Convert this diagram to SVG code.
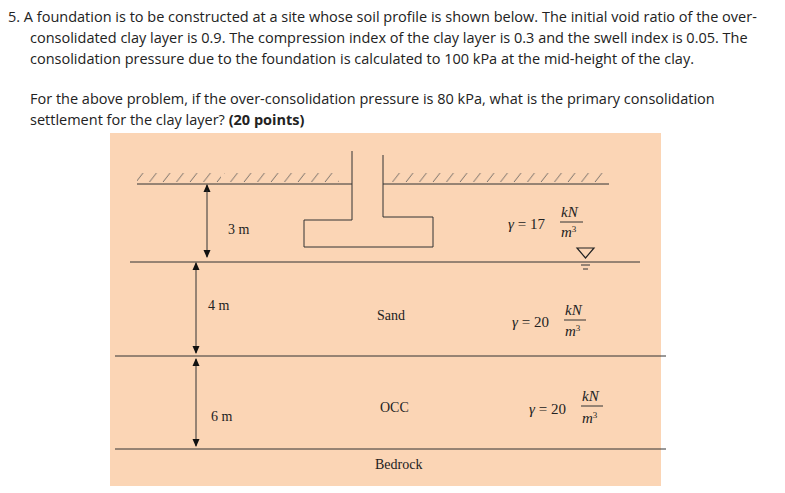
<svg xmlns="http://www.w3.org/2000/svg" width="785" height="493" viewBox="0 0 785 493">
<style>
.q{font-family:"Open Sans","Noto Sans",sans-serif;font-size:14.5px;fill:#222}
.t{font-family:"Liberation Serif",serif;font-size:14px;fill:#222}
.m{font-family:"Liberation Serif",serif;font-style:italic;font-size:15px;fill:#222}
.l{stroke:#333;stroke-width:1;fill:none}
</style>
<defs>
<marker id="a" markerWidth="8" markerHeight="8" refX="7" refY="4" orient="auto" markerUnits="userSpaceOnUse"><path d="M0,0.5 L8,4 L0,7.5Z" fill="#111"/></marker>
<pattern id="hp" x="0" y="172" width="13.5" height="11" patternUnits="userSpaceOnUse"><line x1="1" y1="10" x2="8" y2="1" stroke="#555" stroke-width="0.8"/></pattern>
</defs>
<rect width="785" height="493" fill="#fff"/>
<text class="q" x="8" y="22">5. A foundation is to be constructed at a site whose soil profile is shown below. The initial void ratio of the over-</text>
<text class="q" x="30" y="43">consolidated clay layer is 0.9. The compression index of the clay layer is 0.3 and the swell index is 0.05. The</text>
<text class="q" x="30" y="64">consolidation pressure due to the foundation is calculated to 100 kPa at the mid-height of the clay.</text>
<text class="q" x="30" y="104">For the above problem, if the over-consolidation pressure is 80 kPa, what is the primary consolidation</text>
<text class="q" x="30" y="125">settlement for the clay layer? <tspan font-weight="bold">(20 points)</tspan></text>
<rect x="110" y="133" width="551" height="353" fill="#FBD5B5"/>
<g id="ground">
<rect x="137" y="172" width="84" height="11" fill="url(#hp)"/>
<rect x="224" y="172" width="115" height="11" fill="url(#hp)"/>
<rect x="392" y="172" width="214" height="11" fill="url(#hp)"/>
<line class="l" x1="137" y1="184" x2="352" y2="184"/>
<line class="l" x1="383" y1="184" x2="609" y2="184"/>
</g>
<g id="footing">
<path class="l" d="M352,151 V220 H304 V247 H433 V217 H383 V155"/>
</g>
<g id="layers">
<line class="l" x1="130" y1="262" x2="640" y2="262"/>
<line class="l" x1="115" y1="356" x2="666" y2="356"/>
<line class="l" x1="115" y1="449" x2="666" y2="449"/>
<path d="M577,248 L594,248 L585.5,258Z" fill="none" stroke="#222" stroke-width="1.2"/>
<line class="l" x1="581" y1="265" x2="590" y2="265"/>
<line class="l" x1="583" y1="269" x2="588" y2="269"/>
</g>
<g id="connectors">
<line class="l" x1="207" y1="190" x2="207" y2="185" marker-end="url(#a)"/>
<line class="l" x1="207" y1="190" x2="207" y2="257" marker-end="url(#a)"/>
<line class="l" x1="196" y1="270" x2="196" y2="263" marker-end="url(#a)"/>
<line class="l" x1="196" y1="270" x2="196" y2="353" marker-end="url(#a)"/>
<line class="l" x1="196" y1="366" x2="196" y2="359" marker-end="url(#a)"/>
<line class="l" x1="196" y1="366" x2="196" y2="446" marker-end="url(#a)"/>
</g>
<g id="labels">
<text class="t" x="228" y="234">3 m</text>
<text class="t" x="208" y="310">4 m</text>
<text class="t" x="211" y="421">6 m</text>
<text class="t" x="377" y="320">Sand</text>
<text class="t" x="380" y="412">OCC</text>
<text class="t" x="375" y="469">Bedrock</text>
<text class="m" x="508" y="229">γ <tspan font-style="normal">= 17</tspan></text>
<text class="m" x="561" y="217">kN</text><line class="l" x1="560" y1="222" x2="583" y2="222"/><text class="m" x="561" y="237">m<tspan font-size="9" dy="-5" font-style="normal">3</tspan></text>
<text class="m" x="512" y="327">γ <tspan font-style="normal">= 20</tspan></text>
<text class="m" x="565" y="315">kN</text><line class="l" x1="564" y1="320" x2="586" y2="320"/><text class="m" x="565" y="336">m<tspan font-size="9" dy="-5" font-style="normal">3</tspan></text>
<text class="m" x="529" y="414">γ <tspan font-style="normal">= 20</tspan></text>
<text class="m" x="582" y="401">kN</text><line class="l" x1="581" y1="406" x2="603" y2="406"/><text class="m" x="582" y="423">m<tspan font-size="9" dy="-5" font-style="normal">3</tspan></text>
</g>
</svg>
